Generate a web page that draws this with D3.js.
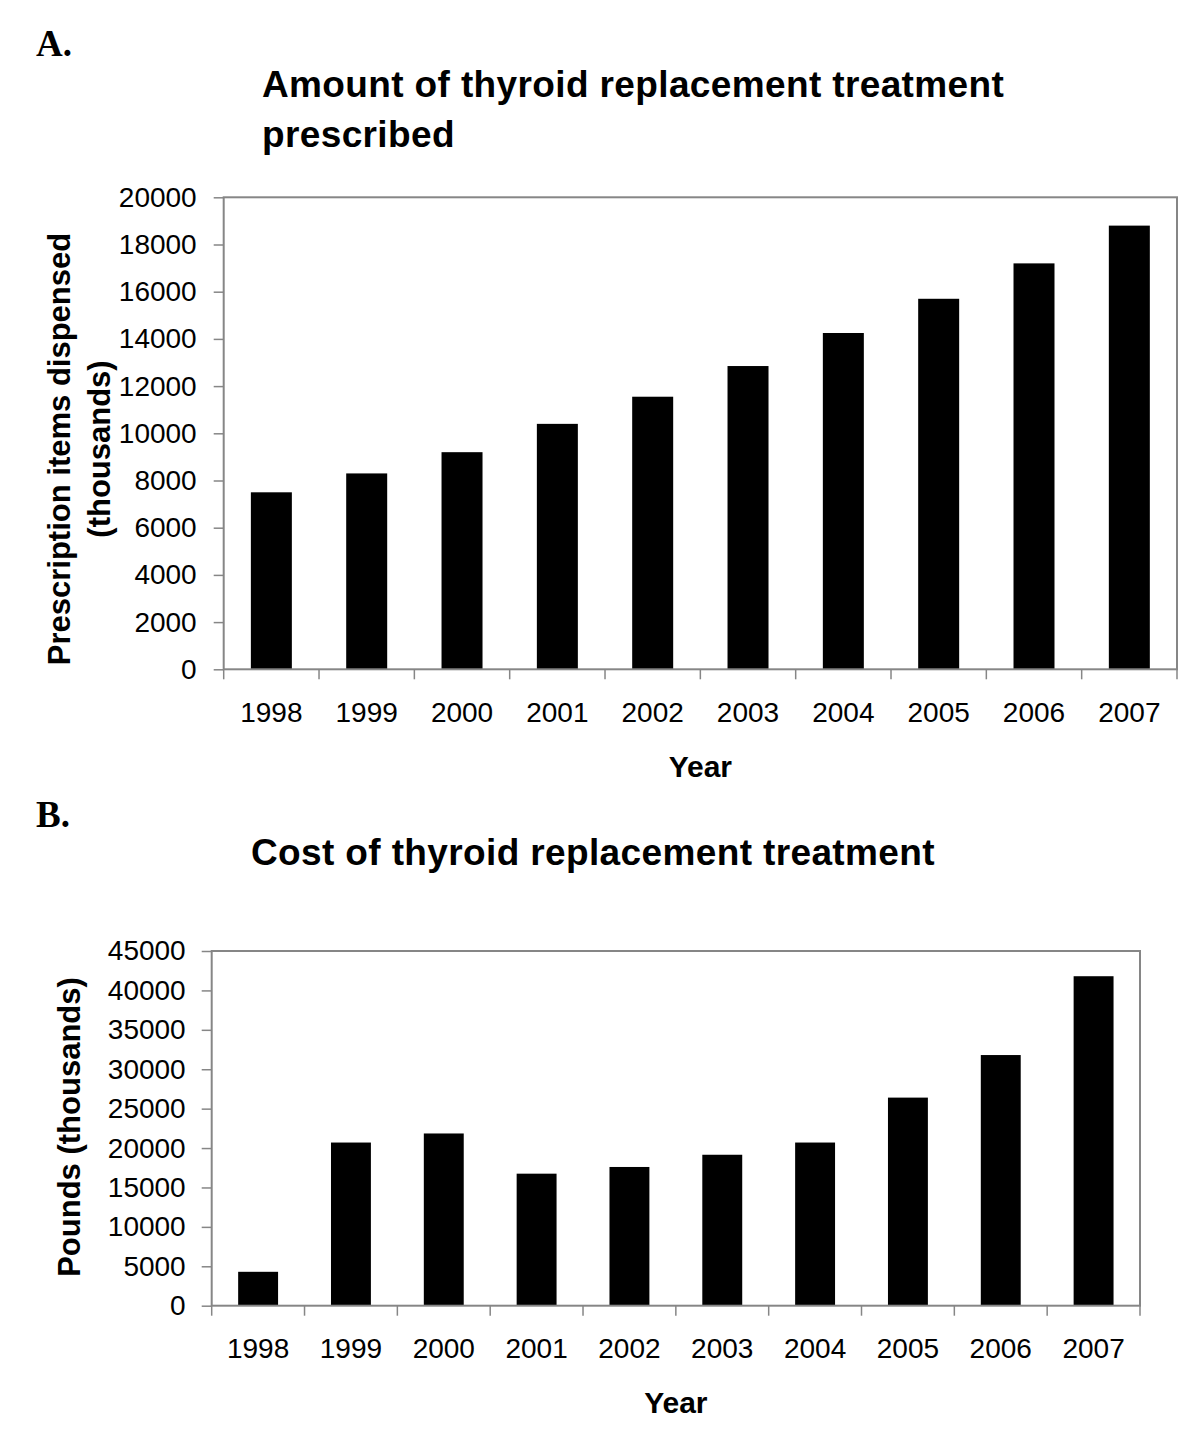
<!DOCTYPE html>
<html>
<head>
<meta charset="utf-8">
<script src="https://cdn.jsdelivr.net/npm/d3@7/dist/d3.min.js"></script>
<style>
  html, body { margin: 0; padding: 0; background: #fff; }
  svg { display: block; }
</style>
</head>
<body>
<script>
// ---- Data ----
const years = ["1998","1999","2000","2001","2002","2003","2004","2005","2006","2007"];
const prescriptions = [7500, 8300, 9200, 10400, 11550, 12850, 14250, 15700, 17200, 18800];
const costs = [4300, 20700, 21850, 16750, 17600, 19150, 20700, 26400, 31800, 41800];
const ticksA = [0, 2000, 4000, 6000, 8000, 10000, 12000, 14000, 16000, 18000, 20000];
const ticksB = [0, 5000, 10000, 15000, 20000, 25000, 30000, 35000, 40000, 45000];

const W = 1200, H = 1446;
const SANS = "'Liberation Sans', Arial, Helvetica, sans-serif";
const SERIF = "'Liberation Serif', 'Times New Roman', serif";
const GRAY = "#868686";

const svg = d3.select("body").append("svg")
  .attr("width", W).attr("height", H)
  .attr("viewBox", `0 0 ${W} ${H}`);
svg.append("rect").attr("width", W).attr("height", H).attr("fill", "#fff");

function drawChart(cfg) {
  const g = svg.append("g");
  const x = d3.scaleBand().domain(years)
    .range([cfg.left, cfg.right])
    .paddingInner(0.57).paddingOuter(0.285);
  const y = d3.scaleLinear().domain([0, d3.max(cfg.ticks)])
    .range([cfg.bottom, cfg.top]);

  // panel letter
  g.append("text").attr("x", cfg.letterX).attr("y", cfg.letterY)
    .attr("font-family", SERIF).attr("font-weight", "bold")
    .attr("font-size", 37).attr("fill", "#000").text(cfg.letter);

  // title
  cfg.title.forEach((line, i) => {
    g.append("text").attr("x", cfg.titleX).attr("y", cfg.titleY + i * 50)
      .attr("font-family", SANS).attr("font-weight", "bold")
      .attr("font-size", 37).attr("letter-spacing", 0.37)
      .attr("fill", "#000").text(line);
  });

  // bars
  g.append("g").selectAll("rect").data(cfg.values).join("rect")
    .attr("x", (d, i) => x(years[i]))
    .attr("y", d => y(d))
    .attr("width", x.bandwidth())
    .attr("height", d => y(0) - y(d))
    .attr("fill", "#000");

  // frame
  g.append("rect")
    .attr("x", cfg.left).attr("y", cfg.top)
    .attr("width", cfg.right - cfg.left).attr("height", cfg.bottom - cfg.top)
    .attr("fill", "none").attr("stroke", GRAY).attr("stroke-width", 2);

  // y axis
  const yAxis = d3.axisLeft(y).tickValues(cfg.ticks).tickSize(10)
    .tickPadding(cfg.tickPad).tickFormat(d3.format("d"));
  const ya = g.append("g").attr("transform", `translate(${cfg.left},0)`).call(yAxis);
  ya.select(".domain").remove();
  ya.selectAll(".tick line").attr("stroke", GRAY).attr("stroke-width", 1.5);
  ya.selectAll(".tick text").attr("font-family", SANS).attr("font-size", 28)
    .attr("fill", "#000");

  // x axis: ticks at category boundaries
  const half = (x.step() - x.bandwidth()) / 2;
  const bounds = years.map(d => x(d) - half).concat([x(years[years.length - 1]) + x.bandwidth() + half]);
  g.append("g").selectAll("line").data(bounds).join("line")
    .attr("x1", d => d).attr("x2", d => d)
    .attr("y1", cfg.bottom).attr("y2", cfg.bottom + 10)
    .attr("stroke", GRAY).attr("stroke-width", 1.5);
  g.append("g").selectAll("text").data(years).join("text")
    .attr("x", d => x(d) + x.bandwidth() / 2)
    .attr("y", cfg.bottom + 52.5)
    .attr("text-anchor", "middle")
    .attr("font-family", SANS).attr("font-size", 28).attr("fill", "#000")
    .text(d => d);

  // x axis title
  g.append("text").attr("x", (cfg.left + cfg.right) / 2).attr("y", cfg.bottom + 107.5)
    .attr("text-anchor", "middle").attr("font-family", SANS).attr("font-weight", "bold")
    .attr("font-size", 30).attr("fill", "#000").text("Year");

  // y axis title
  cfg.yTitle.forEach((line, i) => {
    const bx = cfg.yTitleX + i * 40;
    g.append("text")
      .attr("transform", `translate(${bx},${cfg.yTitleY}) rotate(-90)`)
      .attr("text-anchor", "middle").attr("font-family", SANS).attr("font-weight", "bold")
      .attr("font-size", 31).attr("fill", "#000").text(line);
  });
}

drawChart({
  values: prescriptions, ticks: ticksA,
  left: 223.7, right: 1177, top: 197.3, bottom: 669.3, tickPad: 17,
  letter: "A.", letterX: 36, letterY: 56,
  title: ["Amount of thyroid replacement treatment", "prescribed"],
  titleX: 262, titleY: 97,
  yTitle: ["Prescription items dispensed", "(thousands)"],
  yTitleX: 70, yTitleY: 449
});

drawChart({
  values: costs, ticks: ticksB,
  left: 211.7, right: 1140, top: 951, bottom: 1305.7, tickPad: 16,
  letter: "B.", letterX: 36, letterY: 826.7,
  title: ["Cost of thyroid replacement treatment"],
  titleX: 251, titleY: 865,
  yTitle: ["Pounds (thousands)"],
  yTitleX: 80, yTitleY: 1127
});
</script>
</body>
</html>
